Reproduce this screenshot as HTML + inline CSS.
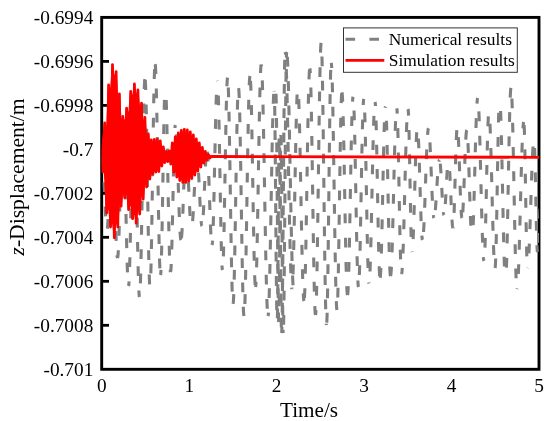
<!DOCTYPE html>
<html><head><meta charset="utf-8"><title>z-Displacement</title>
<style>
html,body{margin:0;padding:0;background:#fff;}
svg{display:block;}
text{font-family:"Liberation Serif",serif;fill:#000;}
.tk{font-size:19.3px;}
.lg{font-size:17.4px;}
.ax{font-size:21.2px;}
</style></head><body>
<svg width="550" height="421" viewBox="0 0 550 421">
<rect x="0" y="0" width="550" height="421" fill="#fff"/>
<clipPath id="cp"><rect x="101.7" y="17.4" width="437.3" height="351.90000000000003"/></clipPath>
<rect x="101.7" y="17.4" width="437.3" height="351.90000000000003" fill="none" stroke="#000" stroke-width="2.9"/>
<text x="93.3" y="23.9" text-anchor="end" class="tk">-0.6994</text>
<text x="93.3" y="67.9" text-anchor="end" class="tk">-0.6996</text>
<text x="93.3" y="111.9" text-anchor="end" class="tk">-0.6998</text>
<text x="93.3" y="155.9" text-anchor="end" class="tk">-0.7</text>
<text x="93.3" y="199.9" text-anchor="end" class="tk">-0.7002</text>
<text x="93.3" y="243.8" text-anchor="end" class="tk">-0.7004</text>
<text x="93.3" y="287.8" text-anchor="end" class="tk">-0.7006</text>
<text x="93.3" y="331.8" text-anchor="end" class="tk">-0.7008</text>
<text x="93.3" y="375.8" text-anchor="end" class="tk">-0.701</text>
<line x1="101.7" y1="61.4" x2="109" y2="61.4" stroke="#000" stroke-width="2.8"/>
<line x1="101.7" y1="105.4" x2="109" y2="105.4" stroke="#000" stroke-width="2.8"/>
<line x1="101.7" y1="149.4" x2="109" y2="149.4" stroke="#000" stroke-width="2.8"/>
<line x1="101.7" y1="193.4" x2="109" y2="193.4" stroke="#000" stroke-width="2.8"/>
<line x1="101.7" y1="237.3" x2="109" y2="237.3" stroke="#000" stroke-width="2.8"/>
<line x1="101.7" y1="281.3" x2="109" y2="281.3" stroke="#000" stroke-width="2.8"/>
<line x1="101.7" y1="325.3" x2="109" y2="325.3" stroke="#000" stroke-width="2.8"/>
<text x="101.7" y="391.8" text-anchor="middle" class="tk">0</text>
<text x="189.2" y="391.8" text-anchor="middle" class="tk">1</text>
<text x="276.6" y="391.8" text-anchor="middle" class="tk">2</text>
<text x="364.1" y="391.8" text-anchor="middle" class="tk">3</text>
<text x="451.5" y="391.8" text-anchor="middle" class="tk">4</text>
<text x="539.0" y="391.8" text-anchor="middle" class="tk">5</text>
<g clip-path="url(#cp)">
<g fill="none" stroke="#808080" stroke-width="3.1" stroke-dasharray="9.8 14.5" stroke-linecap="butt">
<path d="M102.00,152.0 L102.21,152.3 L102.42,153.3 L102.62,155.0 L102.83,157.2 L103.04,160.1 L103.25,163.4 L103.46,167.3 L103.67,171.5 L103.88,176.1 L104.08,180.9 L104.29,185.9 L104.50,191.0 L104.71,196.1 L104.92,201.1 L105.12,205.9 L105.33,210.5 L105.54,214.7 L105.75,218.6 L105.96,221.9 L106.17,224.8 L106.38,227.0 L106.58,228.7 L106.79,229.7 L107.00,230.0" stroke-dashoffset="18.2"/>
<path d="M107.00,230.0 L107.21,229.6 L107.42,228.2 L107.62,226.0 L107.83,223.0 L108.04,219.2 L108.25,214.6 L108.46,209.5 L108.67,203.8 L108.88,197.6 L109.08,191.1 L109.29,184.4 L109.50,177.5 L109.71,170.6 L109.92,163.9 L110.12,157.4 L110.33,151.2 L110.54,145.5 L110.75,140.4 L110.96,135.8 L111.17,132.0 L111.38,129.0 L111.58,126.8 L111.79,125.4 L112.00,125.0" stroke-dashoffset="23.0"/>
<path d="M112.00,125.0 L112.23,125.6 L112.46,127.3 L112.69,130.1 L112.92,133.9 L113.15,138.7 L113.38,144.5 L113.60,151.0 L113.83,158.2 L114.06,166.1 L114.29,174.3 L114.52,182.8 L114.75,191.5 L114.98,200.2 L115.21,208.7 L115.44,216.9 L115.67,224.8 L115.90,232.0 L116.12,238.5 L116.35,244.3 L116.58,249.1 L116.81,252.9 L117.04,255.7 L117.27,257.4 L117.50,258.0" stroke-dashoffset="15.3"/>
<path d="M117.50,258.0 L117.73,257.4 L117.96,255.6 L118.19,252.7 L118.42,248.8 L118.65,243.7 L118.88,237.8 L119.10,231.0 L119.33,223.5 L119.56,215.4 L119.79,206.9 L120.02,198.0 L120.25,189.0 L120.48,180.0 L120.71,171.1 L120.94,162.6 L121.17,154.5 L121.40,147.0 L121.62,140.2 L121.85,134.3 L122.08,129.2 L122.31,125.3 L122.54,122.4 L122.77,120.6 L123.00,120.0" stroke-dashoffset="2.0"/>
<path d="M123.00,120.0 L123.23,120.7 L123.46,122.8 L123.69,126.3 L123.92,131.1 L124.15,137.2 L124.38,144.3 L124.60,152.5 L124.83,161.5 L125.06,171.2 L125.29,181.5 L125.52,192.2 L125.75,203.0 L125.98,213.8 L126.21,224.5 L126.44,234.8 L126.67,244.5 L126.90,253.5 L127.12,261.7 L127.35,268.8 L127.58,274.9 L127.81,279.7 L128.04,283.2 L128.27,285.3 L128.50,286.0" stroke-dashoffset="3.1"/>
<path d="M128.50,286.0 L128.73,285.2 L128.96,282.7 L129.19,278.7 L129.42,273.2 L129.65,266.3 L129.88,258.0 L130.10,248.6 L130.33,238.2 L130.56,227.0 L130.79,215.2 L131.02,203.0 L131.25,190.5 L131.48,178.0 L131.71,165.8 L131.94,154.0 L132.17,142.8 L132.40,132.4 L132.62,123.0 L132.85,114.7 L133.08,107.8 L133.31,102.3 L133.54,98.3 L133.77,95.8 L134.00,95.0" stroke-dashoffset="5.2"/>
<path d="M134.00,95.0 L134.23,95.9 L134.46,98.4 L134.69,102.7 L134.92,108.5 L135.15,115.9 L135.38,124.6 L135.60,134.5 L135.83,145.5 L136.06,157.3 L136.29,169.9 L136.52,182.8 L136.75,196.0 L136.98,209.2 L137.21,222.1 L137.44,234.7 L137.67,246.5 L137.90,257.5 L138.12,267.4 L138.35,276.1 L138.58,283.5 L138.81,289.3 L139.04,293.6 L139.27,296.1 L139.50,297.0" stroke-dashoffset="23.1"/>
<path d="M139.50,297.0 L139.73,296.1 L139.96,293.3 L140.19,288.7 L140.42,282.4 L140.65,274.5 L140.88,265.1 L141.10,254.4 L141.33,242.5 L141.56,229.7 L141.79,216.2 L142.02,202.2 L142.25,188.0 L142.48,173.8 L142.71,159.8 L142.94,146.3 L143.17,133.5 L143.40,121.6 L143.62,110.9 L143.85,101.5 L144.08,93.6 L144.31,87.3 L144.54,82.7 L144.77,79.9 L145.00,79.0" stroke-dashoffset="10.6"/>
<path d="M145.00,79.0 L145.21,79.9 L145.42,82.5 L145.62,86.9 L145.83,92.9 L146.04,100.5 L146.25,109.5 L146.46,119.7 L146.67,131.0 L146.88,143.2 L147.08,156.1 L147.29,169.4 L147.50,183.0 L147.71,196.6 L147.92,209.9 L148.12,222.8 L148.33,235.0 L148.54,246.3 L148.75,256.5 L148.96,265.5 L149.17,273.1 L149.38,279.1 L149.58,283.5 L149.79,286.1 L150.00,287.0" stroke-dashoffset="23.1"/>
<path d="M150.00,287.0 L150.21,286.0 L150.43,283.2 L150.64,278.5 L150.85,272.1 L151.06,264.0 L151.28,254.3 L151.49,243.4 L151.70,231.2 L151.91,218.2 L152.12,204.4 L152.34,190.1 L152.55,175.5 L152.76,160.9 L152.97,146.6 L153.19,132.8 L153.40,119.8 L153.61,107.6 L153.82,96.7 L154.04,87.0 L154.25,78.9 L154.46,72.5 L154.67,67.8 L154.89,65.0 L155.10,64.0" stroke-dashoffset="10.6"/>
<path d="M155.10,64.0 L155.32,64.9 L155.55,67.6 L155.78,72.0 L156.00,78.1 L156.22,85.8 L156.45,94.9 L156.67,105.3 L156.90,116.7 L157.12,129.1 L157.35,142.2 L157.57,155.7 L157.80,169.5 L158.03,183.3 L158.25,196.8 L158.47,209.9 L158.70,222.2 L158.93,233.7 L159.15,244.1 L159.38,253.2 L159.60,260.9 L159.82,267.0 L160.05,271.4 L160.28,274.1 L160.50,275.0" stroke-dashoffset="24.1"/>
<path d="M160.50,275.0 L160.70,274.2 L160.90,271.8 L161.10,267.8 L161.30,262.3 L161.50,255.5 L161.70,247.3 L161.90,238.0 L162.10,227.7 L162.30,216.6 L162.50,204.9 L162.70,192.7 L162.90,180.4 L163.10,168.1 L163.30,155.9 L163.50,144.2 L163.70,133.1 L163.90,122.8 L164.10,113.5 L164.30,105.3 L164.50,98.5 L164.70,93.0 L164.90,89.0 L165.10,86.6 L165.30,85.8" stroke-dashoffset="4.7"/>
<path d="M165.30,85.8 L165.52,86.6 L165.73,89.0 L165.95,92.9 L166.17,98.3 L166.38,105.0 L166.60,113.1 L166.82,122.2 L167.03,132.3 L167.25,143.3 L167.47,154.8 L167.68,166.7 L167.90,178.9 L168.12,191.1 L168.33,203.0 L168.55,214.5 L168.77,225.4 L168.98,235.6 L169.20,244.7 L169.42,252.8 L169.63,259.5 L169.85,264.9 L170.07,268.8 L170.28,271.2 L170.50,272.0" stroke-dashoffset="10.0"/>
<path d="M170.50,272.0 L170.70,271.4 L170.91,269.5 L171.11,266.4 L171.32,262.2 L171.52,256.8 L171.72,250.5 L171.93,243.2 L172.13,235.2 L172.34,226.6 L172.54,217.5 L172.75,208.1 L172.95,198.5 L173.15,188.9 L173.36,179.5 L173.56,170.4 L173.77,161.8 L173.97,153.8 L174.18,146.5 L174.38,140.2 L174.58,134.8 L174.79,130.6 L174.99,127.5 L175.20,125.6 L175.40,125.0" stroke-dashoffset="1.7"/>
<path d="M175.40,125.0 L175.63,125.5 L175.87,127.0 L176.10,129.4 L176.33,132.7 L176.57,136.9 L176.80,141.8 L177.03,147.5 L177.27,153.8 L177.50,160.5 L177.73,167.6 L177.97,175.0 L178.20,182.5 L178.43,190.0 L178.67,197.4 L178.90,204.5 L179.13,211.2 L179.37,217.5 L179.60,223.2 L179.83,228.1 L180.07,232.3 L180.30,235.6 L180.53,238.0 L180.77,239.5 L181.00,240.0" stroke-dashoffset="14.8"/>
<path d="M181.00,240.0 L181.21,239.6 L181.42,238.5 L181.62,236.6 L181.83,234.0 L182.04,230.7 L182.25,226.8 L182.46,222.4 L182.67,217.5 L182.88,212.2 L183.08,206.6 L183.29,200.9 L183.50,195.0 L183.71,189.1 L183.92,183.4 L184.12,177.8 L184.33,172.5 L184.54,167.6 L184.75,163.2 L184.96,159.3 L185.17,156.0 L185.38,153.4 L185.58,151.5 L185.79,150.4 L186.00,150.0" stroke-dashoffset="22.2"/>
<path d="M186.00,150.0 L186.23,150.3 L186.46,151.3 L186.69,153.0 L186.92,155.2 L187.15,158.1 L187.38,161.4 L187.60,165.3 L187.83,169.5 L188.06,174.1 L188.29,178.9 L188.52,183.9 L188.75,189.0 L188.98,194.1 L189.21,199.1 L189.44,203.9 L189.67,208.5 L189.90,212.7 L190.12,216.6 L190.35,219.9 L190.58,222.8 L190.81,225.0 L191.04,226.7 L191.27,227.7 L191.50,228.0" stroke-dashoffset="16.5"/>
<path d="M191.50,228.0 L191.73,227.7 L191.96,226.8 L192.19,225.3 L192.42,223.3 L192.65,220.8 L192.88,217.7 L193.10,214.3 L193.33,210.5 L193.56,206.4 L193.79,202.1 L194.02,197.6 L194.25,193.0 L194.48,188.4 L194.71,183.9 L194.94,179.6 L195.17,175.5 L195.40,171.7 L195.62,168.3 L195.85,165.2 L196.08,162.7 L196.31,160.7 L196.54,159.2 L196.77,158.3 L197.00,158.0" stroke-dashoffset="17.2"/>
<path d="M197.00,158.0 L197.21,158.3 L197.42,159.2 L197.62,160.6 L197.83,162.6 L198.04,165.0 L198.25,168.0 L198.46,171.3 L198.67,175.0 L198.88,179.0 L199.08,183.2 L199.29,187.6 L199.50,192.0 L199.71,196.4 L199.92,200.8 L200.12,205.0 L200.33,209.0 L200.54,212.7 L200.75,216.0 L200.96,219.0 L201.17,221.4 L201.38,223.4 L201.58,224.8 L201.79,225.7 L202.00,226.0" stroke-dashoffset="9.5"/>
<path d="M202.00,226.0 L202.21,225.7 L202.42,224.7 L202.62,223.1 L202.83,220.9 L203.04,218.1 L203.25,214.9 L203.46,211.1 L203.67,207.0 L203.88,202.5 L204.08,197.8 L204.29,193.0 L204.50,188.0 L204.71,183.0 L204.92,178.2 L205.12,173.5 L205.33,169.0 L205.54,164.9 L205.75,161.1 L205.96,157.9 L206.17,155.1 L206.38,152.9 L206.58,151.3 L206.79,150.3 L207.00,150.0" stroke-dashoffset="13.2"/>
<path d="M207.00,150.0 L207.21,150.4 L207.42,151.6 L207.62,153.6 L207.83,156.4 L208.04,159.8 L208.25,163.9 L208.46,168.6 L208.67,173.8 L208.88,179.3 L209.08,185.2 L209.29,191.3 L209.50,197.5 L209.71,203.7 L209.92,209.8 L210.12,215.7 L210.33,221.2 L210.54,226.4 L210.75,231.1 L210.96,235.2 L211.17,238.6 L211.38,241.4 L211.58,243.4 L211.79,244.6 L212.00,245.0" stroke-dashoffset="22.5"/>
<path d="M212.00,245.0 L212.22,244.3 L212.45,242.2 L212.68,238.7 L212.90,234.0 L213.12,228.0 L213.35,220.9 L213.57,212.9 L213.80,203.9 L214.03,194.3 L214.25,184.1 L214.47,173.6 L214.70,162.9 L214.93,152.1 L215.15,141.6 L215.38,131.4 L215.60,121.8 L215.83,112.8 L216.05,104.8 L216.28,97.7 L216.50,91.7 L216.72,87.0 L216.95,83.5 L217.18,81.4 L217.40,80.7" stroke-dashoffset="5.3"/>
<path d="M217.40,80.7 L217.61,81.5 L217.83,83.9 L218.04,87.9 L218.25,93.4 L218.46,100.3 L218.68,108.4 L218.89,117.7 L219.10,128.0 L219.31,139.1 L219.53,150.9 L219.74,163.0 L219.95,175.3 L220.16,187.7 L220.38,199.8 L220.59,211.6 L220.80,222.7 L221.01,233.0 L221.22,242.3 L221.44,250.4 L221.65,257.3 L221.86,262.8 L222.07,266.8 L222.29,269.2 L222.50,270.0" stroke-dashoffset="9.5"/>
<path d="M222.50,270.0 L222.71,269.2 L222.93,266.7 L223.14,262.7 L223.35,257.1 L223.56,250.1 L223.78,241.8 L223.99,232.4 L224.20,221.9 L224.41,210.6 L224.62,198.7 L224.84,186.4 L225.05,173.9 L225.26,161.3 L225.47,149.0 L225.69,137.1 L225.90,125.8 L226.11,115.3 L226.32,105.9 L226.54,97.6 L226.75,90.6 L226.96,85.0 L227.17,81.0 L227.39,78.5 L227.60,77.7" stroke-dashoffset="10.6"/>
<path d="M227.60,77.7 L227.82,78.7 L228.05,81.6 L228.28,86.3 L228.50,92.9 L228.72,101.1 L228.95,110.8 L229.17,122.0 L229.40,134.3 L229.62,147.5 L229.85,161.6 L230.07,176.1 L230.30,190.8 L230.53,205.6 L230.75,220.1 L230.97,234.2 L231.20,247.4 L231.43,259.7 L231.65,270.9 L231.88,280.6 L232.10,288.8 L232.32,295.4 L232.55,300.1 L232.78,303.0 L233.00,304.0" stroke-dashoffset="14.5"/>
<path d="M233.00,304.0 L233.23,303.1 L233.46,300.3 L233.69,295.8 L233.92,289.5 L234.15,281.7 L234.38,272.4 L234.60,261.7 L234.83,250.0 L235.06,237.3 L235.29,224.0 L235.52,210.1 L235.75,196.0 L235.98,181.9 L236.21,168.0 L236.44,154.7 L236.67,142.0 L236.90,130.3 L237.12,119.6 L237.35,110.3 L237.58,102.5 L237.81,96.2 L238.04,91.7 L238.27,88.9 L238.50,88.0" stroke-dashoffset="24.2"/>
<path d="M238.50,88.0 L238.73,89.0 L238.96,91.9 L239.19,96.7 L239.42,103.3 L239.65,111.6 L239.88,121.4 L240.10,132.6 L240.33,145.0 L240.56,158.4 L240.79,172.5 L241.02,187.1 L241.25,202.0 L241.48,216.9 L241.71,231.5 L241.94,245.6 L242.17,259.0 L242.40,271.4 L242.62,282.6 L242.85,292.4 L243.08,300.7 L243.31,307.3 L243.54,312.1 L243.77,315.0 L244.00,316.0" stroke-dashoffset="24.1"/>
<path d="M244.00,316.0 L244.25,315.0 L244.50,311.9 L244.75,306.9 L245.00,299.9 L245.25,291.2 L245.50,280.9 L245.75,269.1 L246.00,256.0 L246.25,241.9 L246.50,227.1 L246.75,211.7 L247.00,196.0 L247.25,180.3 L247.50,164.9 L247.75,150.1 L248.00,136.0 L248.25,122.9 L248.50,111.1 L248.75,100.8 L249.00,92.1 L249.25,85.1 L249.50,80.1 L249.75,77.0 L250.00,76.0" stroke-dashoffset="12.2"/>
<path d="M250.00,76.0 L250.23,76.9 L250.46,79.6 L250.69,84.0 L250.92,90.1 L251.15,97.8 L251.38,106.9 L251.60,117.3 L251.83,128.8 L252.06,141.1 L252.29,154.2 L252.52,167.7 L252.75,181.5 L252.98,195.3 L253.21,208.8 L253.44,221.9 L253.67,234.2 L253.90,245.7 L254.12,256.1 L254.35,265.2 L254.58,272.9 L254.81,279.0 L255.04,283.4 L255.27,286.1 L255.50,287.0" stroke-dashoffset="19.4"/>
<path d="M255.50,287.0 L255.74,286.0 L255.97,283.2 L256.21,278.5 L256.45,272.1 L256.69,264.0 L256.93,254.4 L257.16,243.5 L257.40,231.4 L257.64,218.4 L257.88,204.6 L258.11,190.4 L258.35,175.9 L258.59,161.3 L258.82,147.1 L259.06,133.3 L259.30,120.3 L259.54,108.2 L259.77,97.3 L260.01,87.7 L260.25,79.6 L260.49,73.2 L260.72,68.5 L260.96,65.7 L261.20,64.7" stroke-dashoffset="4.6"/>
<path d="M261.20,64.7 L261.48,65.8 L261.77,69.0 L262.05,74.3 L262.33,81.5 L262.62,90.7 L262.90,101.5 L263.18,113.9 L263.47,127.5 L263.75,142.3 L264.03,157.8 L264.32,173.9 L264.60,190.3 L264.88,206.8 L265.17,222.9 L265.45,238.4 L265.73,253.2 L266.02,266.8 L266.30,279.2 L266.58,290.0 L266.87,299.2 L267.15,306.4 L267.43,311.7 L267.72,314.9 L268.00,316.0" stroke-dashoffset="8.6"/>
<path d="M268.00,316.0 L268.26,315.0 L268.52,312.2 L268.77,307.4 L269.03,300.9 L269.29,292.8 L269.55,283.0 L269.81,272.0 L270.07,259.8 L270.32,246.6 L270.58,232.6 L270.84,218.2 L271.10,203.5 L271.36,188.8 L271.62,174.4 L271.88,160.4 L272.13,147.3 L272.39,135.0 L272.65,124.0 L272.91,114.2 L273.17,106.1 L273.43,99.6 L273.68,94.8 L273.94,92.0 L274.20,91.0" stroke-dashoffset="6.3"/>
<path d="M274.20,91.0 L274.32,92.0 L274.45,94.9 L274.57,99.8 L274.70,106.5 L274.82,114.9 L274.95,124.8 L275.07,136.2 L275.20,148.8 L275.32,162.3 L275.45,176.6 L275.57,191.4 L275.70,206.5 L275.82,221.6 L275.95,236.4 L276.07,250.7 L276.20,264.2 L276.32,276.8 L276.45,288.2 L276.57,298.1 L276.70,306.5 L276.82,313.2 L276.95,318.1 L277.07,321.0 L277.20,322.0" stroke-dashoffset="9.3"/>
<path d="M275.80,91.0 L275.93,92.0 L276.05,94.9 L276.18,99.8 L276.30,106.5 L276.43,114.9 L276.55,124.8 L276.68,136.2 L276.80,148.8 L276.93,162.3 L277.05,176.6 L277.18,191.4 L277.30,206.5 L277.43,221.6 L277.55,236.4 L277.68,250.7 L277.80,264.2 L277.93,276.8 L278.05,288.2 L278.18,298.1 L278.30,306.5 L278.43,313.2 L278.55,318.1 L278.68,321.0 L278.80,322.0" stroke-dashoffset="21.5"/>
<path d="M277.20,322.0 L277.29,321.2 L277.38,318.8 L277.46,314.9 L277.55,309.5 L277.64,302.7 L277.73,294.6 L277.81,285.4 L277.90,275.2 L277.99,264.3 L278.07,252.7 L278.16,240.7 L278.25,228.5 L278.34,216.3 L278.43,204.3 L278.51,192.7 L278.60,181.8 L278.69,171.6 L278.77,162.4 L278.86,154.3 L278.95,147.5 L279.04,142.1 L279.12,138.2 L279.21,135.8 L279.30,135.0" stroke-dashoffset="20.6"/>
<path d="M278.80,322.0 L278.89,321.2 L278.98,318.8 L279.06,314.9 L279.15,309.5 L279.24,302.7 L279.33,294.6 L279.41,285.4 L279.50,275.2 L279.59,264.3 L279.68,252.7 L279.76,240.7 L279.85,228.5 L279.94,216.3 L280.03,204.3 L280.11,192.7 L280.20,181.8 L280.29,171.6 L280.38,162.4 L280.46,154.3 L280.55,147.5 L280.64,142.1 L280.73,138.2 L280.81,135.8 L280.90,135.0" stroke-dashoffset="8.5"/>
<path d="M279.30,135.0 L279.40,135.8 L279.49,138.4 L279.59,142.5 L279.68,148.3 L279.78,155.5 L279.88,164.0 L279.97,173.7 L280.07,184.5 L280.16,196.1 L280.26,208.4 L280.35,221.1 L280.45,234.0 L280.55,246.9 L280.64,259.6 L280.74,271.9 L280.83,283.5 L280.93,294.3 L281.03,304.0 L281.12,312.5 L281.22,319.7 L281.31,325.5 L281.41,329.6 L281.50,332.2 L281.60,333.0" stroke-dashoffset="11.6"/>
<path d="M280.90,135.0 L281.00,135.8 L281.09,138.4 L281.19,142.5 L281.28,148.3 L281.38,155.5 L281.48,164.0 L281.57,173.7 L281.67,184.5 L281.76,196.1 L281.86,208.4 L281.95,221.1 L282.05,234.0 L282.15,246.9 L282.24,259.6 L282.34,271.9 L282.43,283.5 L282.53,294.3 L282.63,304.0 L282.72,312.5 L282.82,319.7 L282.91,325.5 L283.01,329.6 L283.10,332.2 L283.20,333.0" stroke-dashoffset="23.8"/>
<path d="M281.60,333.0 L281.75,331.8 L281.89,328.2 L282.04,322.3 L282.18,314.2 L282.33,304.0 L282.48,291.8 L282.62,278.0 L282.77,262.8 L282.91,246.3 L283.06,228.9 L283.20,210.8 L283.35,192.5 L283.50,174.2 L283.64,156.1 L283.79,138.7 L283.93,122.3 L284.08,107.0 L284.23,93.2 L284.37,81.0 L284.52,70.8 L284.66,62.7 L284.81,56.8 L284.95,53.2 L285.10,52.0" stroke-dashoffset="3.8"/>
<path d="M283.20,333.0 L283.35,331.8 L283.49,328.2 L283.64,322.3 L283.78,314.2 L283.93,304.0 L284.08,291.8 L284.22,278.0 L284.37,262.8 L284.51,246.3 L284.66,228.9 L284.80,210.8 L284.95,192.5 L285.10,174.2 L285.24,156.1 L285.39,138.7 L285.53,122.3 L285.68,107.0 L285.83,93.2 L285.97,81.0 L286.12,70.8 L286.26,62.7 L286.41,56.8 L286.55,53.2 L286.70,52.0" stroke-dashoffset="16.0"/>
<path d="M285.10,52.0 L285.39,53.0 L285.68,56.0 L285.96,61.0 L286.25,67.9 L286.54,76.5 L286.83,86.7 L287.11,98.4 L287.40,111.2 L287.69,125.2 L287.98,139.8 L288.26,155.0 L288.55,170.5 L288.84,186.0 L289.12,201.2 L289.41,215.8 L289.70,229.7 L289.99,242.6 L290.27,254.3 L290.56,264.5 L290.85,273.1 L291.14,280.0 L291.43,285.0 L291.71,288.0 L292.00,289.0" stroke-dashoffset="7.2"/>
<path d="M286.70,52.0 L286.99,53.0 L287.28,56.0 L287.56,61.0 L287.85,67.9 L288.14,76.5 L288.43,86.7 L288.71,98.4 L289.00,111.2 L289.29,125.2 L289.58,139.8 L289.86,155.0 L290.15,170.5 L290.44,186.0 L290.73,201.2 L291.01,215.8 L291.30,229.7 L291.59,242.6 L291.88,254.3 L292.16,264.5 L292.45,273.1 L292.74,280.0 L293.03,285.0 L293.31,288.0 L293.60,289.0" stroke-dashoffset="19.4"/>
<path d="M292.00,289.0 L292.24,288.1 L292.48,285.6 L292.73,281.3 L292.97,275.5 L293.21,268.2 L293.45,259.6 L293.69,249.7 L293.93,238.8 L294.18,227.0 L294.42,214.5 L294.66,201.6 L294.90,188.5 L295.14,175.4 L295.38,162.5 L295.62,150.0 L295.87,138.3 L296.11,127.3 L296.35,117.4 L296.59,108.8 L296.83,101.5 L297.07,95.7 L297.32,91.4 L297.56,88.9 L297.80,88.0" stroke-dashoffset="9.6"/>
<path d="M297.80,88.0 L298.06,88.9 L298.32,91.6 L298.57,96.1 L298.83,102.3 L299.09,110.0 L299.35,119.2 L299.61,129.7 L299.87,141.2 L300.12,153.7 L300.38,166.9 L300.64,180.6 L300.90,194.5 L301.16,208.4 L301.42,222.1 L301.68,235.3 L301.93,247.7 L302.19,259.3 L302.45,269.8 L302.71,279.0 L302.97,286.7 L303.23,292.9 L303.48,297.4 L303.74,300.1 L304.00,301.0" stroke-dashoffset="13.1"/>
<path d="M304.00,301.0 L304.24,300.0 L304.48,297.0 L304.73,292.1 L304.97,285.4 L305.21,277.0 L305.45,266.9 L305.69,255.5 L305.93,242.8 L306.18,229.2 L306.42,214.8 L306.66,199.8 L306.90,184.7 L307.14,169.5 L307.38,154.5 L307.62,140.1 L307.87,126.5 L308.11,113.8 L308.35,102.4 L308.59,92.3 L308.83,83.9 L309.07,77.2 L309.32,72.3 L309.56,69.3 L309.80,68.3" stroke-dashoffset="21.3"/>
<path d="M309.80,68.3 L310.04,69.4 L310.28,72.5 L310.51,77.7 L310.75,84.8 L310.99,93.8 L311.23,104.4 L311.46,116.6 L311.70,130.0 L311.94,144.4 L312.18,159.7 L312.41,175.5 L312.65,191.6 L312.89,207.8 L313.12,223.6 L313.36,238.9 L313.60,253.3 L313.84,266.7 L314.07,278.9 L314.31,289.5 L314.55,298.5 L314.79,305.6 L315.02,310.8 L315.26,313.9 L315.50,315.0" stroke-dashoffset="5.1"/>
<path d="M315.50,315.0 L315.74,313.8 L315.98,310.4 L316.21,304.6 L316.45,296.7 L316.69,286.8 L316.93,275.1 L317.16,261.7 L317.40,246.9 L317.64,230.9 L317.88,214.0 L318.11,196.5 L318.35,178.8 L318.59,161.0 L318.82,143.5 L319.06,126.6 L319.30,110.6 L319.54,95.8 L319.77,82.4 L320.01,70.7 L320.25,60.8 L320.49,52.9 L320.72,47.1 L320.96,43.7 L321.20,42.5" stroke-dashoffset="4.9"/>
<path d="M321.20,42.5 L321.42,43.7 L321.64,47.3 L321.86,53.3 L322.08,61.4 L322.30,71.7 L322.52,83.9 L322.75,97.8 L322.97,113.1 L323.19,129.7 L323.41,147.2 L323.63,165.3 L323.85,183.7 L324.07,202.2 L324.29,220.3 L324.51,237.8 L324.73,254.4 L324.95,269.7 L325.18,283.6 L325.40,295.8 L325.62,306.1 L325.84,314.2 L326.06,320.2 L326.28,323.8 L326.50,325.0" stroke-dashoffset="10.3"/>
<path d="M326.50,325.0 L326.70,323.9 L326.89,320.5 L327.09,315.0 L327.28,307.4 L327.48,297.9 L327.68,286.6 L327.87,273.7 L328.07,259.5 L328.26,244.1 L328.46,227.8 L328.65,211.0 L328.85,193.9 L329.05,176.8 L329.24,160.0 L329.44,143.7 L329.63,128.4 L329.83,114.1 L330.02,101.2 L330.22,89.9 L330.42,80.4 L330.61,72.8 L330.81,67.3 L331.00,63.9 L331.20,62.8" stroke-dashoffset="21.9"/>
<path d="M331.20,62.8 L331.44,63.9 L331.68,67.0 L331.93,72.2 L332.17,79.4 L332.41,88.3 L332.65,99.0 L332.89,111.2 L333.13,124.6 L333.38,139.1 L333.62,154.4 L333.86,170.3 L334.10,186.4 L334.34,202.5 L334.58,218.4 L334.82,233.7 L335.07,248.2 L335.31,261.6 L335.55,273.8 L335.79,284.5 L336.03,293.4 L336.27,300.6 L336.52,305.8 L336.76,308.9 L337.00,310.0" stroke-dashoffset="4.6"/>
<path d="M337.00,310.0 L337.20,309.1 L337.41,306.3 L337.61,301.7 L337.82,295.4 L338.02,287.5 L338.23,278.1 L338.43,267.4 L338.63,255.6 L338.84,242.8 L339.04,229.3 L339.25,215.4 L339.45,201.2 L339.65,186.9 L339.86,173.0 L340.06,159.5 L340.27,146.7 L340.47,134.9 L340.67,124.2 L340.88,114.8 L341.08,106.9 L341.29,100.6 L341.49,96.0 L341.70,93.2 L341.90,92.3" stroke-dashoffset="11.8"/>
<path d="M341.90,92.3 L342.13,93.2 L342.37,95.8 L342.60,100.0 L342.83,105.9 L343.07,113.2 L343.30,122.0 L343.53,132.0 L343.77,143.0 L344.00,154.9 L344.23,167.4 L344.47,180.4 L344.70,193.6 L344.93,206.9 L345.17,219.9 L345.40,232.4 L345.63,244.3 L345.87,255.3 L346.10,265.3 L346.33,274.1 L346.57,281.4 L346.80,287.3 L347.03,291.5 L347.27,294.1 L347.50,295.0" stroke-dashoffset="0.3"/>
<path d="M347.50,295.0 L347.73,294.2 L347.97,291.6 L348.20,287.5 L348.43,281.7 L348.67,274.5 L348.90,266.0 L349.13,256.2 L349.37,245.4 L349.60,233.8 L349.83,221.5 L350.07,208.8 L350.30,195.9 L350.53,182.9 L350.77,170.2 L351.00,157.9 L351.23,146.3 L351.47,135.5 L351.70,125.7 L351.93,117.2 L352.17,110.0 L352.40,104.2 L352.63,100.1 L352.87,97.5 L353.10,96.7" stroke-dashoffset="1.0"/>
<path d="M353.10,96.7 L353.33,97.5 L353.55,99.9 L353.78,103.9 L354.00,109.4 L354.23,116.4 L354.45,124.6 L354.68,133.9 L354.90,144.3 L355.12,155.4 L355.35,167.2 L355.57,179.4 L355.80,191.8 L356.03,204.3 L356.25,216.5 L356.48,228.3 L356.70,239.4 L356.93,249.8 L357.15,259.1 L357.38,267.3 L357.60,274.3 L357.82,279.8 L358.05,283.8 L358.27,286.2 L358.50,287.0" stroke-dashoffset="10.5"/>
<path d="M358.50,287.0 L358.72,286.2 L358.94,283.8 L359.16,279.8 L359.38,274.4 L359.60,267.6 L359.82,259.5 L360.05,250.2 L360.27,240.0 L360.49,228.9 L360.71,217.3 L360.93,205.2 L361.15,193.0 L361.37,180.7 L361.59,168.6 L361.81,157.0 L362.03,145.9 L362.25,135.7 L362.48,126.4 L362.70,118.3 L362.92,111.5 L363.14,106.1 L363.36,102.1 L363.58,99.7 L363.80,98.9" stroke-dashoffset="12.3"/>
<path d="M363.80,98.9 L364.02,99.7 L364.23,102.0 L364.45,105.9 L364.67,111.3 L364.88,118.0 L365.10,125.9 L365.32,135.0 L365.53,145.1 L365.75,155.9 L365.97,167.3 L366.18,179.2 L366.40,191.2 L366.62,203.2 L366.83,215.1 L367.05,226.5 L367.27,237.3 L367.48,247.4 L367.70,256.5 L367.92,264.4 L368.13,271.1 L368.35,276.5 L368.57,280.4 L368.78,282.7 L369.00,283.5" stroke-dashoffset="10.7"/>
<path d="M369.00,283.5 L369.25,282.7 L369.50,280.4 L369.75,276.6 L370.00,271.3 L370.25,264.7 L370.50,256.9 L370.75,248.0 L371.00,238.1 L371.25,227.5 L371.50,216.2 L371.75,204.6 L372.00,192.8 L372.25,180.9 L372.50,169.3 L372.75,158.0 L373.00,147.4 L373.25,137.5 L373.50,128.6 L373.75,120.8 L374.00,114.2 L374.25,108.9 L374.50,105.1 L374.75,102.8 L375.00,102.0" stroke-dashoffset="12.2"/>
<path d="M375.00,102.0 L375.21,102.8 L375.42,105.0 L375.62,108.7 L375.83,113.8 L376.04,120.2 L376.25,127.8 L376.46,136.4 L376.67,146.0 L376.88,156.3 L377.08,167.2 L377.29,178.5 L377.50,190.0 L377.71,201.5 L377.92,212.8 L378.12,223.7 L378.33,234.0 L378.54,243.6 L378.75,252.2 L378.96,259.8 L379.17,266.2 L379.38,271.3 L379.58,275.0 L379.79,277.2 L380.00,278.0" stroke-dashoffset="5.8"/>
<path d="M380.00,278.0 L380.23,277.3 L380.46,275.1 L380.69,271.5 L380.92,266.5 L381.15,260.3 L381.38,252.9 L381.60,244.5 L381.83,235.1 L382.06,225.1 L382.29,214.4 L382.52,203.4 L382.75,192.2 L382.98,181.1 L383.21,170.1 L383.44,159.4 L383.67,149.4 L383.90,140.0 L384.12,131.6 L384.35,124.2 L384.58,118.0 L384.81,113.0 L385.04,109.4 L385.27,107.2 L385.50,106.5" stroke-dashoffset="24.0"/>
<path d="M385.50,106.5 L385.71,107.2 L385.92,109.4 L386.12,113.0 L386.33,117.9 L386.54,124.0 L386.75,131.3 L386.96,139.7 L387.17,148.9 L387.38,158.8 L387.58,169.3 L387.79,180.2 L388.00,191.2 L388.21,202.3 L388.42,213.2 L388.62,223.7 L388.83,233.6 L389.04,242.8 L389.25,251.2 L389.46,258.5 L389.67,264.6 L389.88,269.5 L390.08,273.1 L390.29,275.3 L390.50,276.0" stroke-dashoffset="10.0"/>
<path d="M390.50,276.0 L390.76,275.3 L391.02,273.1 L391.27,269.6 L391.53,264.8 L391.79,258.7 L392.05,251.5 L392.31,243.2 L392.57,234.1 L392.82,224.3 L393.08,213.9 L393.34,203.1 L393.60,192.2 L393.86,181.3 L394.12,170.5 L394.38,160.1 L394.63,150.3 L394.89,141.2 L395.15,132.9 L395.41,125.7 L395.67,119.6 L395.93,114.8 L396.18,111.3 L396.44,109.1 L396.70,108.4" stroke-dashoffset="0.6"/>
<path d="M396.70,108.4 L396.90,109.1 L397.10,111.2 L397.30,114.7 L397.50,119.5 L397.70,125.5 L397.90,132.7 L398.10,140.8 L398.30,149.8 L398.50,159.5 L398.70,169.8 L398.90,180.4 L399.10,191.2 L399.30,202.0 L399.50,212.6 L399.70,222.9 L399.90,232.6 L400.10,241.6 L400.30,249.7 L400.50,256.9 L400.70,262.9 L400.90,267.7 L401.10,271.2 L401.30,273.3 L401.50,274.0" stroke-dashoffset="4.5"/>
<path d="M401.50,274.0 L401.77,273.3 L402.04,271.2 L402.31,267.7 L402.58,262.9 L402.85,257.0 L403.12,249.8 L403.40,241.7 L403.67,232.8 L403.94,223.1 L404.21,212.9 L404.48,202.3 L404.75,191.5 L405.02,180.7 L405.29,170.1 L405.56,159.9 L405.83,150.2 L406.10,141.3 L406.38,133.2 L406.65,126.0 L406.92,120.1 L407.19,115.3 L407.46,111.8 L407.73,109.7 L408.00,109.0" stroke-dashoffset="3.7"/>
<path d="M408.00,109.0 L408.17,109.6 L408.33,111.4 L408.50,114.4 L408.67,118.6 L408.83,123.8 L409.00,129.9 L409.17,137.0 L409.33,144.8 L409.50,153.1 L409.67,162.0 L409.83,171.2 L410.00,180.5 L410.17,189.8 L410.33,199.0 L410.50,207.9 L410.67,216.2 L410.83,224.0 L411.00,231.1 L411.17,237.2 L411.33,242.4 L411.50,246.6 L411.67,249.6 L411.83,251.4 L412.00,252.0" stroke-dashoffset="3.2"/>
<path d="M412.00,252.0 L412.23,251.5 L412.45,249.9 L412.68,247.3 L412.90,243.7 L413.12,239.2 L413.35,233.8 L413.57,227.7 L413.80,221.0 L414.02,213.7 L414.25,206.0 L414.47,198.1 L414.70,190.0 L414.93,181.9 L415.15,174.0 L415.38,166.3 L415.60,159.0 L415.82,152.3 L416.05,146.2 L416.27,140.8 L416.50,136.3 L416.72,132.7 L416.95,130.1 L417.17,128.5 L417.40,128.0" stroke-dashoffset="11.4"/>
<path d="M417.40,128.0 L417.61,128.5 L417.82,129.9 L418.04,132.3 L418.25,135.5 L418.46,139.6 L418.67,144.4 L418.89,149.9 L419.10,156.0 L419.31,162.6 L419.52,169.5 L419.74,176.7 L419.95,184.0 L420.16,191.3 L420.38,198.5 L420.59,205.4 L420.80,212.0 L421.01,218.1 L421.23,223.6 L421.44,228.4 L421.65,232.5 L421.86,235.7 L422.07,238.1 L422.29,239.5 L422.50,240.0" stroke-dashoffset="13.7"/>
<path d="M422.50,240.0 L422.75,239.5 L423.00,238.1 L423.25,235.7 L423.50,232.5 L423.75,228.5 L424.00,223.6 L424.25,218.1 L424.50,212.1 L424.75,205.5 L425.00,198.6 L425.25,191.4 L425.50,184.2 L425.75,176.9 L426.00,169.7 L426.25,162.8 L426.50,156.2 L426.75,150.2 L427.00,144.7 L427.25,139.8 L427.50,135.8 L427.75,132.6 L428.00,130.2 L428.25,128.8 L428.50,128.3" stroke-dashoffset="16.2"/>
<path d="M428.50,128.3 L428.73,128.7 L428.96,129.8 L429.19,131.7 L429.42,134.3 L429.65,137.6 L429.88,141.4 L430.10,145.8 L430.33,150.7 L430.56,156.0 L430.79,161.5 L431.02,167.3 L431.25,173.2 L431.48,179.0 L431.71,184.8 L431.94,190.3 L432.17,195.6 L432.40,200.5 L432.62,204.9 L432.85,208.7 L433.08,212.0 L433.31,214.6 L433.54,216.5 L433.77,217.6 L434.00,218.0" stroke-dashoffset="10.1"/>
<path d="M434.00,218.0 L434.23,217.8 L434.46,217.0 L434.69,215.8 L434.92,214.1 L435.15,212.0 L435.38,209.5 L435.60,206.7 L435.83,203.5 L436.06,200.1 L436.29,196.5 L436.52,192.8 L436.75,189.0 L436.98,185.2 L437.21,181.5 L437.44,177.9 L437.67,174.5 L437.90,171.3 L438.12,168.5 L438.35,166.0 L438.58,163.9 L438.81,162.2 L439.04,161.0 L439.27,160.2 L439.50,160.0" stroke-dashoffset="16.2"/>
<path d="M439.50,160.0 L439.69,160.2 L439.88,160.9 L440.06,162.1 L440.25,163.7 L440.44,165.7 L440.62,168.1 L440.81,170.8 L441.00,173.8 L441.19,177.0 L441.38,180.4 L441.56,183.9 L441.75,187.5 L441.94,191.1 L442.12,194.6 L442.31,198.0 L442.50,201.2 L442.69,204.2 L442.88,206.9 L443.06,209.3 L443.25,211.3 L443.44,212.9 L443.62,214.1 L443.81,214.8 L444.00,215.0" stroke-dashoffset="20.5"/>
<path d="M444.00,215.0 L444.19,214.8 L444.38,214.1 L444.56,212.9 L444.75,211.3 L444.94,209.3 L445.12,206.9 L445.31,204.2 L445.50,201.2 L445.69,198.0 L445.88,194.6 L446.06,191.1 L446.25,187.5 L446.44,183.9 L446.62,180.4 L446.81,177.0 L447.00,173.8 L447.19,170.8 L447.38,168.1 L447.56,165.7 L447.75,163.7 L447.94,162.1 L448.12,160.9 L448.31,160.2 L448.50,160.0" stroke-dashoffset="13.2"/>
<path d="M448.50,160.0 L448.69,160.3 L448.88,161.2 L449.06,162.6 L449.25,164.6 L449.44,167.0 L449.62,170.0 L449.81,173.3 L450.00,177.0 L450.19,181.0 L450.38,185.2 L450.56,189.6 L450.75,194.0 L450.94,198.4 L451.12,202.8 L451.31,207.0 L451.50,211.0 L451.69,214.7 L451.88,218.0 L452.06,221.0 L452.25,223.4 L452.44,225.4 L452.62,226.8 L452.81,227.7 L453.00,228.0" stroke-dashoffset="13.1"/>
<path d="M453.00,228.0 L453.18,227.6 L453.36,226.3 L453.54,224.2 L453.72,221.2 L453.90,217.6 L454.07,213.2 L454.25,208.2 L454.43,202.8 L454.61,196.8 L454.79,190.6 L454.97,184.1 L455.15,177.5 L455.33,170.9 L455.51,164.4 L455.69,158.2 L455.87,152.2 L456.05,146.8 L456.23,141.8 L456.40,137.4 L456.58,133.8 L456.76,130.8 L456.94,128.7 L457.12,127.4 L457.30,127.0" stroke-dashoffset="9.1"/>
<path d="M457.30,127.0 L457.50,127.4 L457.69,128.6 L457.89,130.5 L458.08,133.1 L458.28,136.4 L458.48,140.3 L458.67,144.8 L458.87,149.8 L459.06,155.1 L459.26,160.7 L459.45,166.6 L459.65,172.5 L459.85,178.4 L460.04,184.3 L460.24,189.9 L460.43,195.2 L460.63,200.2 L460.82,204.7 L461.02,208.6 L461.22,211.9 L461.41,214.5 L461.61,216.4 L461.80,217.6 L462.00,218.0" stroke-dashoffset="14.1"/>
<path d="M462.00,218.0 L462.20,217.6 L462.40,216.5 L462.60,214.7 L462.80,212.1 L463.00,208.9 L463.20,205.1 L463.40,200.8 L463.60,196.0 L463.80,190.8 L464.00,185.4 L464.20,179.7 L464.40,174.0 L464.60,168.3 L464.80,162.6 L465.00,157.2 L465.20,152.0 L465.40,147.2 L465.60,142.9 L465.80,139.1 L466.00,135.9 L466.20,133.3 L466.40,131.5 L466.60,130.4 L466.80,130.0" stroke-dashoffset="18.6"/>
<path d="M466.80,130.0 L467.02,130.5 L467.23,131.9 L467.45,134.1 L467.67,137.3 L467.88,141.3 L468.10,146.0 L468.32,151.3 L468.53,157.2 L468.75,163.6 L468.97,170.4 L469.18,177.4 L469.40,184.5 L469.62,191.6 L469.83,198.6 L470.05,205.4 L470.27,211.8 L470.48,217.7 L470.70,223.0 L470.92,227.7 L471.13,231.7 L471.35,234.9 L471.57,237.1 L471.78,238.5 L472.00,239.0" stroke-dashoffset="11.1"/>
<path d="M472.00,239.0 L472.24,238.4 L472.48,236.6 L472.71,233.6 L472.95,229.6 L473.19,224.4 L473.43,218.4 L473.66,211.4 L473.90,203.8 L474.14,195.5 L474.38,186.7 L474.61,177.7 L474.85,168.5 L475.09,159.3 L475.32,150.3 L475.56,141.5 L475.80,133.2 L476.04,125.6 L476.27,118.6 L476.51,112.6 L476.75,107.4 L476.99,103.4 L477.22,100.4 L477.46,98.6 L477.70,98.0" stroke-dashoffset="10.3"/>
<path d="M477.70,98.0 L477.96,98.7 L478.22,100.8 L478.49,104.2 L478.75,108.9 L479.01,114.8 L479.27,121.9 L479.54,129.9 L479.80,138.8 L480.06,148.3 L480.32,158.4 L480.59,168.9 L480.85,179.5 L481.11,190.1 L481.38,200.6 L481.64,210.7 L481.90,220.2 L482.16,229.1 L482.43,237.1 L482.69,244.2 L482.95,250.1 L483.21,254.8 L483.48,258.2 L483.74,260.3 L484.00,261.0" stroke-dashoffset="10.8"/>
<path d="M484.00,261.0 L484.20,260.4 L484.41,258.5 L484.61,255.3 L484.82,251.0 L485.02,245.6 L485.23,239.2 L485.43,231.9 L485.63,223.8 L485.84,215.0 L486.04,205.8 L486.25,196.2 L486.45,186.5 L486.65,176.8 L486.86,167.2 L487.06,158.0 L487.27,149.2 L487.47,141.1 L487.67,133.8 L487.88,127.4 L488.08,122.0 L488.29,117.7 L488.49,114.5 L488.70,112.6 L488.90,112.0" stroke-dashoffset="10.9"/>
<path d="M488.90,112.0 L489.15,112.7 L489.41,114.7 L489.66,117.9 L489.92,122.5 L490.17,128.1 L490.42,134.8 L490.68,142.5 L490.93,151.0 L491.19,160.2 L491.44,169.8 L491.70,179.8 L491.95,190.0 L492.20,200.2 L492.46,210.2 L492.71,219.8 L492.97,229.0 L493.22,237.5 L493.48,245.2 L493.73,251.9 L493.98,257.5 L494.24,262.1 L494.49,265.3 L494.75,267.3 L495.00,268.0" stroke-dashoffset="12.5"/>
<path d="M495.00,268.0 L495.19,267.3 L495.38,265.1 L495.57,261.5 L495.77,256.6 L495.96,250.5 L496.15,243.2 L496.34,234.8 L496.53,225.6 L496.73,215.7 L496.92,205.2 L497.11,194.3 L497.30,183.2 L497.49,172.2 L497.68,161.3 L497.88,150.8 L498.07,140.9 L498.26,131.7 L498.45,123.3 L498.64,116.0 L498.83,109.9 L499.03,105.0 L499.22,101.4 L499.41,99.2 L499.60,98.5" stroke-dashoffset="0.2"/>
<path d="M499.60,98.5 L499.85,99.3 L500.09,101.6 L500.34,105.4 L500.58,110.7 L500.83,117.4 L501.08,125.2 L501.32,134.2 L501.57,144.1 L501.81,154.8 L502.06,166.1 L502.30,177.8 L502.55,189.8 L502.80,201.7 L503.04,213.4 L503.29,224.7 L503.53,235.4 L503.78,245.3 L504.02,254.3 L504.27,262.1 L504.52,268.8 L504.76,274.1 L505.01,277.9 L505.25,280.2 L505.50,281.0" stroke-dashoffset="11.8"/>
<path d="M505.50,281.0 L505.73,280.2 L505.96,277.7 L506.19,273.6 L506.42,268.1 L506.65,261.0 L506.88,252.7 L507.10,243.2 L507.33,232.7 L507.56,221.4 L507.79,209.4 L508.02,197.0 L508.25,184.4 L508.48,171.8 L508.71,159.4 L508.94,147.4 L509.17,136.1 L509.40,125.6 L509.62,116.1 L509.85,107.8 L510.08,100.7 L510.31,95.2 L510.54,91.1 L510.77,88.6 L511.00,87.8" stroke-dashoffset="10.9"/>
<path d="M511.00,87.8 L511.25,88.7 L511.50,91.2 L511.75,95.5 L512.00,101.3 L512.25,108.6 L512.50,117.3 L512.75,127.2 L513.00,138.1 L513.25,149.9 L513.50,162.4 L513.75,175.3 L514.00,188.4 L514.25,201.5 L514.50,214.4 L514.75,226.9 L515.00,238.7 L515.25,249.6 L515.50,259.5 L515.75,268.2 L516.00,275.5 L516.25,281.3 L516.50,285.6 L516.75,288.1 L517.00,289.0" stroke-dashoffset="13.6"/>
<path d="M517.00,289.0 L517.28,288.3 L517.57,286.2 L517.85,282.6 L518.13,277.8 L518.42,271.7 L518.70,264.5 L518.98,256.3 L519.27,247.2 L519.55,237.5 L519.83,227.1 L520.12,216.4 L520.40,205.5 L520.68,194.6 L520.97,183.9 L521.25,173.5 L521.53,163.8 L521.82,154.7 L522.10,146.5 L522.38,139.3 L522.67,133.2 L522.95,128.4 L523.23,124.8 L523.52,122.7 L523.80,122.0" stroke-dashoffset="9.2"/>
<path d="M523.80,122.0 L523.95,122.6 L524.11,124.5 L524.26,127.6 L524.42,131.8 L524.57,137.1 L524.72,143.4 L524.88,150.6 L525.03,158.5 L525.19,167.1 L525.34,176.1 L525.50,185.5 L525.65,195.0 L525.80,204.5 L525.96,213.9 L526.11,222.9 L526.27,231.5 L526.42,239.4 L526.58,246.6 L526.73,252.9 L526.88,258.2 L527.04,262.4 L527.19,265.5 L527.35,267.4 L527.50,268.0" stroke-dashoffset="21.2"/>
<path d="M527.50,268.0 L527.77,267.5 L528.04,265.8 L528.31,263.1 L528.58,259.4 L528.85,254.8 L529.12,249.3 L529.40,243.0 L529.67,236.0 L529.94,228.5 L530.21,220.6 L530.48,212.4 L530.75,204.0 L531.02,195.6 L531.29,187.4 L531.56,179.5 L531.83,172.0 L532.10,165.0 L532.38,158.7 L532.65,153.2 L532.92,148.6 L533.19,144.9 L533.46,142.2 L533.73,140.5 L534.00,140.0" stroke-dashoffset="9.6"/>
<path d="M534.00,140.0 L534.15,140.5 L534.29,141.9 L534.44,144.3 L534.58,147.5 L534.73,151.6 L534.88,156.4 L535.02,161.9 L535.17,168.0 L535.31,174.6 L535.46,181.5 L535.60,188.7 L535.75,196.0 L535.90,203.3 L536.04,210.5 L536.19,217.4 L536.33,224.0 L536.48,230.1 L536.62,235.6 L536.77,240.4 L536.92,244.5 L537.06,247.7 L537.21,250.1 L537.35,251.5 L537.50,252.0" stroke-dashoffset="16.2"/>
<path d="M537.50,252.0 L537.65,251.8 L537.79,251.1 L537.94,250.0 L538.08,248.5 L538.23,246.6 L538.38,244.4 L538.52,241.8 L538.67,239.0 L538.81,235.9 L538.96,232.7 L539.10,229.4 L539.25,226.0 L539.40,222.6 L539.54,219.3 L539.69,216.1 L539.83,213.0 L539.98,210.2 L540.12,207.6 L540.27,205.4 L540.42,203.5 L540.56,202.0 L540.71,200.9 L540.85,200.2 L541.00,200.0" stroke-dashoffset="15.1"/>
</g>
<polygon points="101.7,148.5 103.2,135.0 104.7,123.0 106.7,130.0 108.6,84.9 110.5,91.9 112.5,64.6 114.3,78.6 116.1,71.6 117.8,101.0 119.4,94.0 121.1,123.5 122.8,116.5 124.7,123.5 126.6,108.2 128.6,115.2 130.7,91.5 132.6,98.5 134.4,84.0 136.2,96.9 137.9,89.9 139.7,110.2 141.5,103.2 143.2,124.3 144.9,117.3 146.6,141.0 148.3,134.0 149.8,147.0 151.3,140.0 152.8,147.0 154.3,139.5 155.8,146.5 157.3,139.5 158.8,148.0 160.3,141.0 161.8,154.0 163.3,147.0 164.8,156.5 166.3,151.5 167.8,156.5 169.3,151.0 170.8,156.5 172.3,143.0 173.8,150.0 175.3,137.0 176.8,144.0 178.3,133.0 179.8,140.0 181.3,130.5 182.8,137.5 184.3,129.3 185.8,137.0 187.3,130.0 188.8,139.0 190.3,132.0 191.8,142.0 193.3,135.0 194.8,146.0 196.3,139.0 197.8,150.0 199.3,143.0 200.8,154.5 202.3,147.5 203.8,156.5 205.3,151.5 206.8,156.5 208.3,154.5 211.5,156.5 209.8,158.0 208.3,156.5 206.8,160.0 205.3,156.5 203.8,163.0 202.3,156.5 200.8,167.0 199.3,160.0 197.8,171.0 196.3,164.0 194.8,175.0 193.3,168.0 191.8,178.5 190.3,171.5 188.8,181.0 187.3,174.0 185.8,182.4 184.3,175.4 182.8,182.4 181.3,173.5 179.8,180.5 178.3,170.0 176.8,177.0 175.3,165.0 173.8,172.0 172.3,157.0 170.8,164.0 169.3,156.5 167.8,161.5 166.3,156.5 164.8,162.5 163.3,156.5 161.8,166.0 160.3,159.0 158.8,171.5 157.3,164.5 155.8,172.0 154.3,165.0 152.8,174.0 151.3,167.0 149.8,179.0 148.2,172.0 146.6,187.0 144.9,180.0 143.2,199.0 141.4,192.0 139.7,214.0 137.9,207.0 136.2,223.2 134.4,211.7 132.6,218.7 130.6,202.6 128.6,209.6 126.7,190.7 124.7,197.7 122.9,190.7 121.1,206.2 119.4,199.2 117.8,226.9 116.0,219.9 114.3,237.8 112.4,220.1 110.5,227.1 108.6,206.0 106.7,213.0 105.0,180.0 104.4,172.5 101.7,172.0" fill="#ff0000" stroke="#ff0000" stroke-width="1.2" stroke-linejoin="round"/>
<path d="M101.8,148.5 L102.7,172.0 L104.7,123.0 L106.7,213.0 L108.6,84.9 L110.5,227.1 L112.5,64.6 L114.3,237.8 L116.1,71.6 L117.8,226.9 L119.4,94.0 L121.1,206.2 L122.8,116.5 L124.7,197.7 L126.6,108.2 L128.6,209.6 L130.7,91.5 L132.6,218.7 L134.4,84.0 L136.2,223.2 L137.9,89.9 L139.7,214.0 L141.5,103.2 L143.2,199.0 L144.9,117.3 L146.6,187.0 L148.3,134.0 L149.8,179.0 L151.3,140.0 L152.8,174.0 L154.3,139.5 L155.8,172.0 L157.3,139.5 L158.8,171.5 L160.3,141.0 L161.8,166.0 L163.3,147.0 L164.8,162.5 L166.3,151.5 L167.8,161.5 L169.3,151.0 L170.8,164.0 L172.3,143.0 L173.8,172.0 L175.3,137.0 L176.8,177.0 L178.3,133.0 L179.8,180.5 L181.3,130.5 L182.8,182.4 L184.3,129.3 L185.8,182.4 L187.3,130.0 L188.8,181.0 L190.3,132.0 L191.8,178.5 L193.3,135.0 L194.8,175.0 L196.3,139.0 L197.8,171.0 L199.3,143.0 L200.8,167.0 L202.3,147.5 L203.8,163.0 L205.3,151.5 L206.8,160.0 L208.3,154.5 L209.8,158.0 L211.5,156.5 L539.0,157.3" fill="none" stroke="#ff0000" stroke-width="2.8" stroke-linejoin="round"/>
</g>
<rect x="343.5" y="27.9" width="173.8" height="44.4" fill="#fff" stroke="#333" stroke-width="1"/>
<line x1="345.5" y1="39.2" x2="384.3" y2="39.2" stroke="#808080" stroke-width="2.9" stroke-dasharray="9.6 14.3"/>
<line x1="345.5" y1="60.4" x2="384.3" y2="60.4" stroke="#ff0000" stroke-width="2.9"/>
<text x="388.8" y="44.6" class="lg">Numerical results</text>
<text x="388.8" y="66.2" class="lg">Simulation results</text>
<text x="280.0" y="416.5" class="ax">Time/s</text>
<text transform="translate(23.8,255.5) rotate(-90)" style="font-size:21.6px"><tspan font-style="italic">z</tspan>-Displacement/m</text>
</svg>
</body></html>
